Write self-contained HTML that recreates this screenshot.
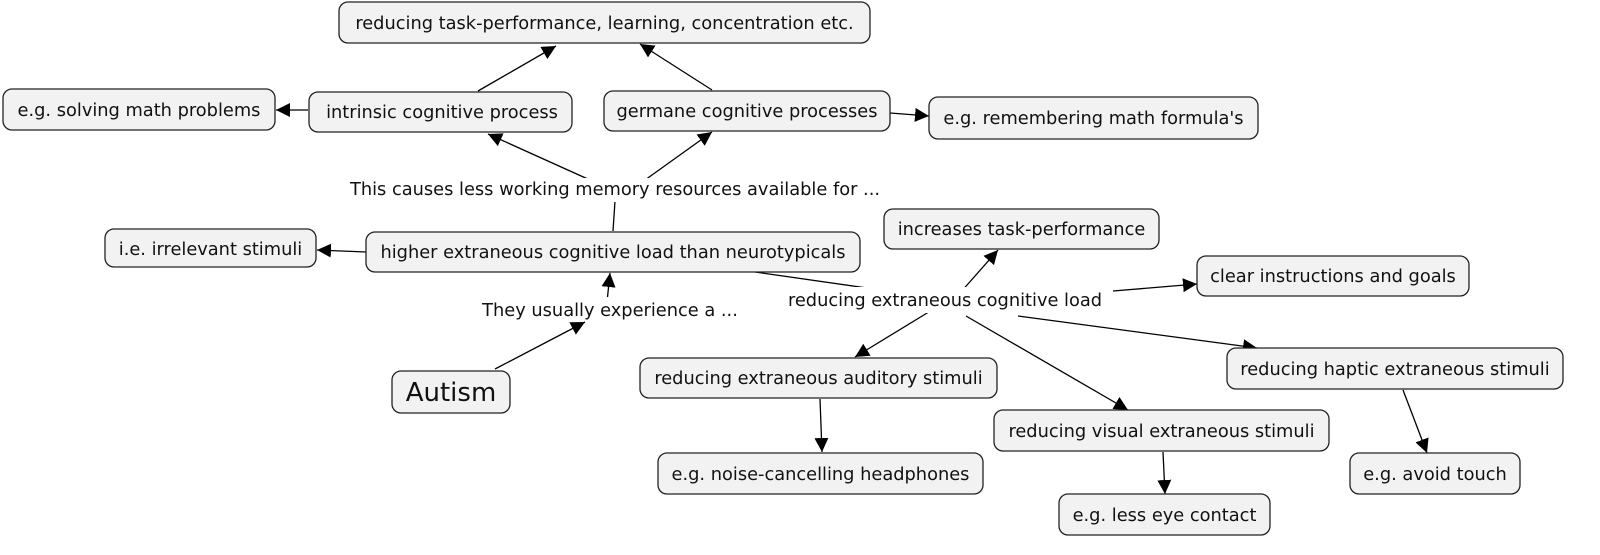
<!DOCTYPE html>
<html><head><meta charset="utf-8"><style>
html,body{margin:0;padding:0;background:#fff;}
svg text{font-family:"DejaVu Sans","Liberation Sans",sans-serif;font-size:17.8px;fill:#111;}
</style></head><body>
<svg width="1600" height="550" viewBox="0 0 1600 550" xmlns="http://www.w3.org/2000/svg">
<defs><marker id="a" viewBox="0 0 10 10" refX="10" refY="5" markerWidth="14" markerHeight="14" markerUnits="userSpaceOnUse" orient="auto"><path d="M0,0L10,5L0,10z" fill="#000"/></marker></defs>
<g stroke="#000" stroke-width="1.3" fill="none">
<line x1="478" y1="91" x2="556" y2="46" marker-end="url(#a)"/>
<line x1="712" y1="90" x2="640" y2="44" marker-end="url(#a)"/>
<line x1="590" y1="180" x2="488" y2="134" marker-end="url(#a)"/>
<line x1="645" y1="180" x2="712" y2="132" marker-end="url(#a)"/>
<line x1="613" y1="231" x2="615" y2="201"/>
<line x1="366" y1="252" x2="317" y2="250" marker-end="url(#a)"/>
<line x1="308" y1="110" x2="276" y2="110" marker-end="url(#a)"/>
<line x1="890" y1="113" x2="929" y2="116" marker-end="url(#a)"/>
<line x1="495" y1="369" x2="585" y2="322" marker-end="url(#a)"/>
<line x1="607" y1="302" x2="610" y2="273" marker-end="url(#a)"/>
<line x1="755" y1="272" x2="930" y2="297"/>
<line x1="960" y1="293" x2="998" y2="250" marker-end="url(#a)"/>
<line x1="1113" y1="291" x2="1197" y2="284" marker-end="url(#a)"/>
<line x1="932" y1="310" x2="855" y2="357" marker-end="url(#a)"/>
<line x1="966" y1="316" x2="1128" y2="410" marker-end="url(#a)"/>
<line x1="1018" y1="316" x2="1257" y2="348" marker-end="url(#a)"/>
<line x1="820" y1="399" x2="822" y2="452" marker-end="url(#a)"/>
<line x1="1163" y1="452" x2="1165" y2="494" marker-end="url(#a)"/>
<line x1="1403" y1="390" x2="1427" y2="453" marker-end="url(#a)"/>
</g>
<g fill="#fff">
<rect x="345" y="178" width="545" height="24"/>
<rect x="478" y="297" width="266" height="24"/>
<rect x="786" y="287" width="320" height="26"/>
</g>
<g fill="#f2f2f2" stroke="#222" stroke-width="1.3">
<rect x="339" y="2" width="531" height="41" rx="9"/>
<rect x="3" y="89" width="272" height="41" rx="9"/>
<rect x="309" y="92" width="263" height="40" rx="9"/>
<rect x="604" y="91" width="286" height="40" rx="9"/>
<rect x="929" y="97" width="329" height="42" rx="9"/>
<rect x="105" y="229" width="211" height="38" rx="9"/>
<rect x="366" y="232" width="494" height="40" rx="9"/>
<rect x="884" y="209" width="275" height="40" rx="9"/>
<rect x="1197" y="256" width="272" height="40" rx="9"/>
<rect x="392" y="371" width="118" height="42" rx="9"/>
<rect x="640" y="358" width="357" height="40" rx="9"/>
<rect x="1227" y="348" width="336" height="41" rx="9"/>
<rect x="994" y="410" width="335" height="41" rx="9"/>
<rect x="658" y="453" width="325" height="41" rx="9"/>
<rect x="1059" y="494" width="211" height="41" rx="9"/>
<rect x="1350" y="453" width="170" height="41" rx="9"/>
</g>
<g text-anchor="middle">
<text x="604.5" y="29">reducing task-performance, learning, concentration etc.</text>
<text x="139" y="116">e.g. solving math problems</text>
<text x="442" y="118">intrinsic cognitive process</text>
<text x="747" y="117">germane cognitive processes</text>
<text x="1093.5" y="124">e.g. remembering math formula's</text>
<text x="210.5" y="255">i.e. irrelevant stimuli</text>
<text x="613" y="258">higher extraneous cognitive load than neurotypicals</text>
<text x="1021.5" y="235">increases task-performance</text>
<text x="1333" y="282">clear instructions and goals</text>
<text x="451" y="401" style="font-size:26px">Autism</text>
<text x="818.5" y="384">reducing extraneous auditory stimuli</text>
<text x="1395" y="375">reducing haptic extraneous stimuli</text>
<text x="1161.5" y="437">reducing visual extraneous stimuli</text>
<text x="820.5" y="480">e.g. noise-cancelling headphones</text>
<text x="1164.5" y="521">e.g. less eye contact</text>
<text x="1435" y="480">e.g. avoid touch</text>
<text x="615" y="195">This causes less working memory resources available for ...</text>
<text x="610" y="316">They usually experience a ...</text>
<text x="945" y="306">reducing extraneous cognitive load</text>
</g>
</svg>
</body></html>
